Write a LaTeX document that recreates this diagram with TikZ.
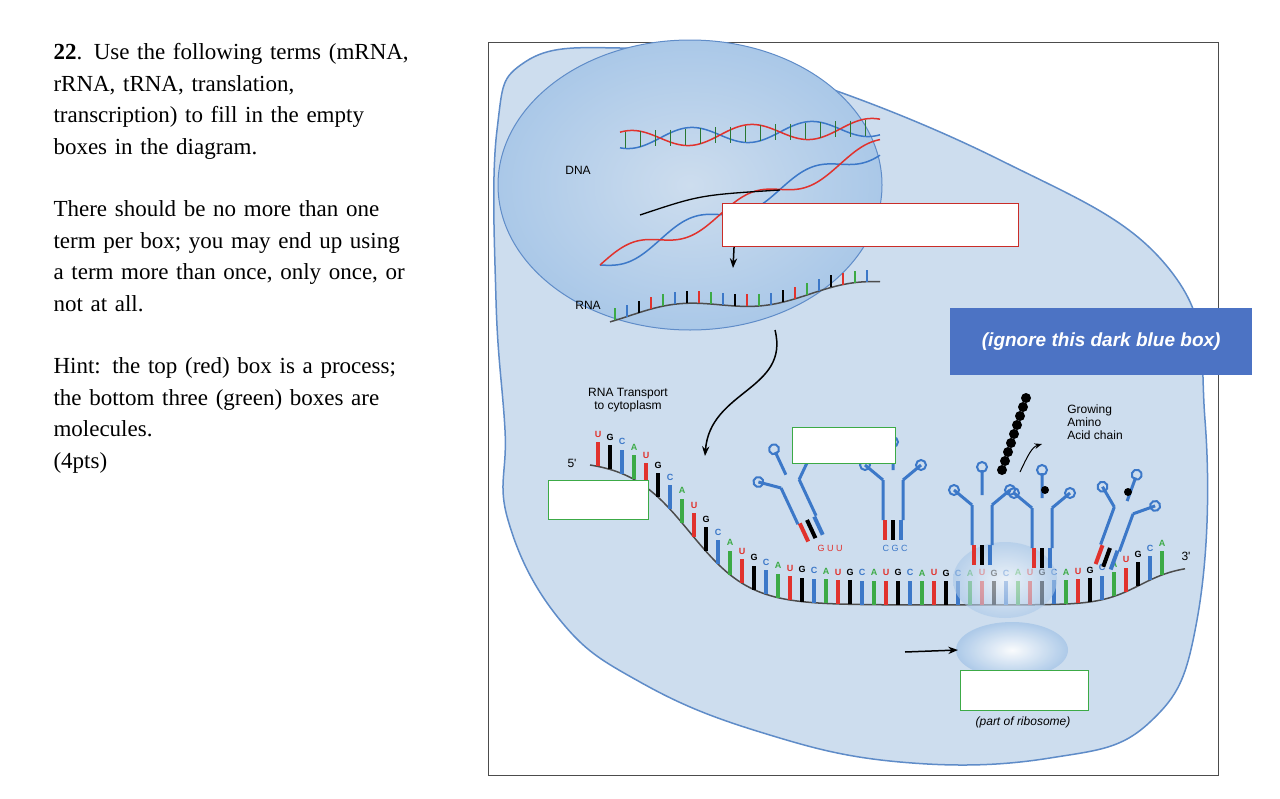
\documentclass[tikz,border=0pt]{standalone}
\usepackage{fontspec}
\setmainfont{Liberation Serif}
\newfontfamily\sansf{Liberation Sans}
\usetikzlibrary{arrows.meta}
\definecolor{cellfill}{RGB}{205,221,238}
\definecolor{cellline}{RGB}{95,140,200}
\definecolor{nucfill}{RGB}{170,200,232}
\definecolor{darkbox}{RGB}{76,115,196}
\definecolor{trnablue}{RGB}{60,120,200}
\definecolor{basered}{RGB}{225,50,45}
\definecolor{basegreen}{RGB}{60,170,70}
\tikzset{
  emptybox/.style={draw=#1, fill=white, line width=1.2pt},
  lbl/.style={font=\sansf\fontsize{12}{13}\selectfont, align=left},
}
\newcommand{\mrnay}[1]{605-145*(1-tanh(max(-4,min(4,(#1-690)/60))))/2-40*(1+tanh(max(-4,min(4,(#1-1140)/40))))/2}
\begin{document}
\begin{tikzpicture}[x=1pt,y=-1pt]
        \useasboundingbox (0,0) rectangle (1280,798);
        % Question text
        \node[anchor=north west, align=left, font=\fontsize{23}{31.5}\selectfont, text width=360pt] (question) at (50,40)
          {\raggedright\textbf{22}. Use the following terms (mRNA, rRNA, tRNA, translation, transcription) to fill in the empty boxes in the diagram.\\[31pt]
           There should be no more than one term per box; you may end up using a term more than once, only once, or not at all.\\[31pt]
           Hint: the top (red) box is a process; the bottom three (green) boxes are molecules.\\(4pts)};
        % Frame
        \draw[black!70, line width=1pt] (488,42) rectangle (1218,775);
        % Cell
        \draw[cellline, fill=cellfill, line width=1.5pt] plot[smooth cycle, tension=0.7] coordinates {
          (497,130) (525,62) (620,48) (760,66) (1000,160) (1170,270) (1205,420) (1197,620)
          (1150,722) (1050,758) (900,762) (760,732) (640,682) (560,620) (508,520) (505,430) (496,300)};
        % Nucleus
        \shade[inner color=cellfill, outer color=nucfill, draw=cellline, line width=1pt] (690,185) ellipse (192pt and 145pt);
        % DNA helices
        \foreach \c/\p in {trnablue/0, basered/180} {
          \draw[\c, line width=1.5pt] plot[domain=620:880, samples=120] (\x, {140-(\x-620)*0.05+9*sin(3*\x+\p)});
          \draw[\c, line width=1.5pt] plot[domain=600:880, samples=120] (\x, {265-(\x-600)*0.42+9*sin(3*\x+\p)});
        }
        \foreach \x in {625,640,...,875} {
          \draw[basegreen!70!black, line width=1pt] (\x, {132-(\x-620)*0.05}) -- (\x, {148-(\x-620)*0.05});
        }
        \draw[black, line width=1.3pt] (640,215) .. controls (700,195) .. (780,190);
        % RNA in nucleus
        \draw[black!70, line width=1.5pt] plot[domain=610:880, samples=100] (\x, {318+6*sin(2*\x)-(\x-610)*0.12});
        \foreach \x [count=\k] in {615,627,...,875} {
          \pgfmathtruncatemacro\m{mod(\k,4)}
          \ifcase\m \def\bc{basered}\or \def\bc{basegreen}\or \def\bc{trnablue}\or \def\bc{black}\fi
          \draw[\bc, line width=2pt] (\x, {318+6*sin(2*\x)-(\x-610)*0.12}) -- ++(0,-12);
        }
        \node[lbl] (dnalbl) at (578,170) {DNA};
        \node[lbl] (rnalbl) at (588,305) {RNA};
        \node[lbl, align=center] (transport) at (628,400) {RNA Transport\\to cytoplasm};
        % Cytoplasmic mRNA
        \draw[black!70, line width=1.5pt] plot[domain=590:1185, samples=150] (\x, {\mrnay{\x}});
        \foreach \k in {0,...,47} {
          \pgfmathsetmacro\bx{598+12*\k}
          \pgfmathsetmacro\by{\mrnay{\bx}}
          \pgfmathtruncatemacro\m{mod(\k*7,4)}
          \ifcase\m \def\bc{basered}\def\bl{U}\or \def\bc{basegreen}\def\bl{A}\or \def\bc{trnablue}\def\bl{C}\or \def\bc{black}\def\bl{G}\fi
          \draw[\bc, line width=3.5pt] (\bx,\by) -- (\bx,\by-24);
          \node[font=\sansf\bfseries\fontsize{9}{9}\selectfont, text=\bc] at (\bx,\by-32) {\bl};
        }
        \node[lbl] (fiveend) at (572,463) {5'};
        \node[lbl] (threeend) at (1186,556) {3'};
        % Ribosome
        \shade[inner color=white, outer color=nucfill, opacity=0.9] (1012,650) ellipse (56pt and 28pt);
        \shade[inner color=white, outer color=nucfill, opacity=0.6] (1005,580) ellipse (52pt and 38pt);
        \coordinate (ribostart) at (905,652);
        \coordinate (ribonear) at (958,650);
        \draw[-{Stealth}, line width=1.5pt] (ribostart) -- (ribonear);
        % tRNAs
        \foreach \tx/\ty/\ang in {807/520/25, 893/520/0, 982/545/0, 1042/548/0, 1110/548/-20} {
          \begin{scope}[shift={(\tx,\ty)}, rotate=\ang]
            \draw[trnablue, line width=3pt] (-10,0) -- (-10,-40) (10,0) -- (10,-40)
              (-10,-40) -- (-28,-55) (10,-40) -- (28,-55) (0,-50) -- (0,-75);
            \draw[trnablue, line width=2pt] (-28,-55) circle (5pt) (28,-55) circle (5pt) (0,-78) circle (5pt);
            \draw[basered, line width=4pt] (-8,0) -- (-8,20);
            \draw[black, line width=4pt] (0,0) -- (0,20);
            \draw[trnablue, line width=4pt] (8,0) -- (8,20);
          \end{scope}
        }
        \node[font=\sansf\fontsize{9}{9}\selectfont, text=basered] (anti1) at (830,548) {G U U};
        \node[font=\sansf\fontsize{9}{9}\selectfont, text=trnablue] (anti2) at (895,548) {C G C};
        % Amino acid chain
        \foreach \k in {0,...,8} {
          \fill (1026-3*\k, 398+9*\k) circle (5pt);
        }
        \fill (1045,490) circle (4pt) (1128,492) circle (4pt);
        \node[lbl] (growing) at (1095,422) {Growing\\Amino\\Acid chain};
        \coordinate (chaintail) at (1020,472);
        \coordinate (chainhead) at (1042,444);
        \draw[-{Stealth}, line width=1pt] (chaintail) .. controls (1028,455) and (1032,447) .. (chainhead);
        % Process arrows
        \coordinate (txstart) at (735,228);
        \coordinate (txend) at (733,268);
        \draw[-{Stealth}, line width=1.5pt] (txstart) -- (txend);
        \coordinate (exstart) at (775,330);
        \coordinate (exend) at (705,456);
        \draw[-{Stealth}, line width=1.5pt] (exstart) .. controls (790,390) and (710,390) .. (exend);
        % Boxes
        \node[emptybox=basered!90!black, minimum width=296pt, minimum height=43pt, anchor=north west] (processbox) at (722,203) {};
        \node[fill=darkbox, minimum width=302pt, minimum height=67pt, anchor=north west, text=white,
              font=\sansf\bfseries\itshape\fontsize{19}{20}\selectfont] (ignorebox) at (950,308) {(ignore this dark blue box)};
        \node[emptybox=basegreen, minimum width=100pt, minimum height=39pt, anchor=north west] (mrnabox) at (548,480) {};
        \node[emptybox=basegreen, minimum width=103pt, minimum height=36pt, anchor=north west] (trnabox) at (792,427) {};
        \node[emptybox=basegreen, minimum width=128pt, minimum height=40pt, anchor=north west] (rrnabox) at (960,670) {};
        \node[font=\sansf\itshape\fontsize{12}{13}\selectfont] (ribolbl) at (1023,722) {(part of ribosome)};
\end{tikzpicture}
\end{document}
